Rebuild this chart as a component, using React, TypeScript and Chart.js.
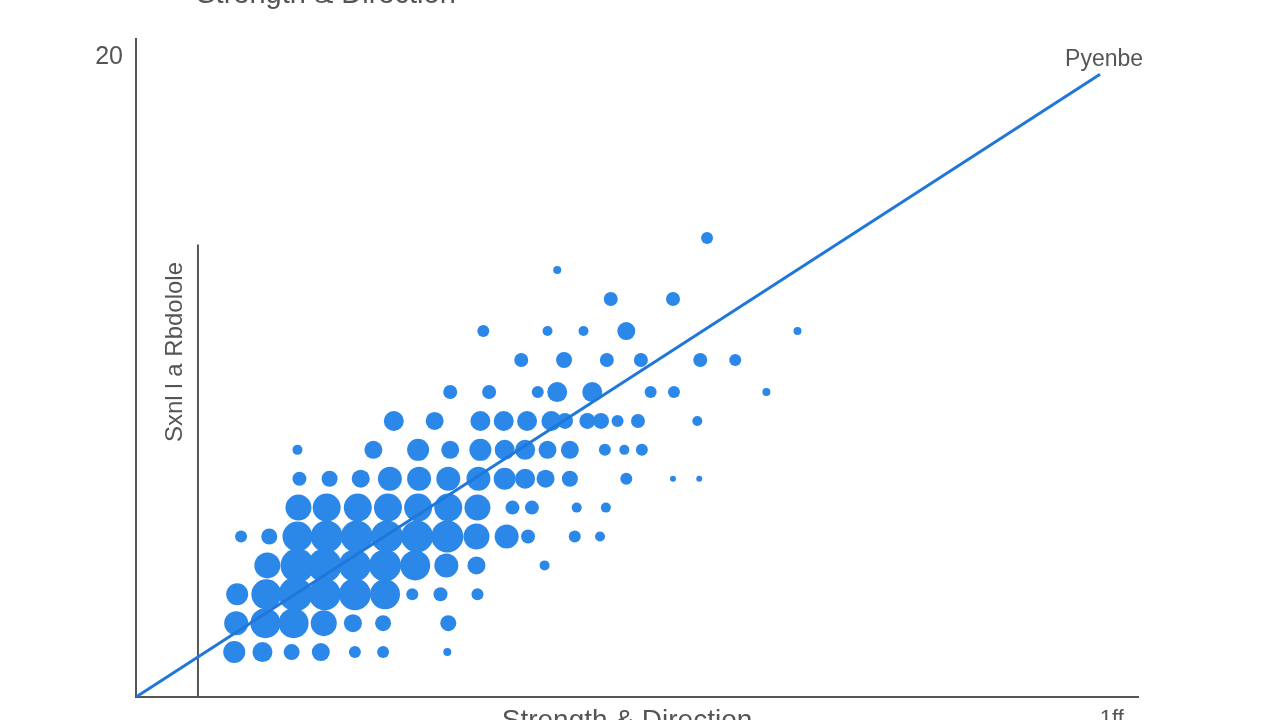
import React, { useEffect, useRef } from "react";
import { Chart, registerables } from "chart.js";

Chart.register(...registerables);

// ---- text ----
const chartTitle = "Strength & Direction";
const xAxisTitle = "Strength & Direction";
const yAxisTitle = "Sxnl l a Rbdolole";
const trendLabel = "Pyenbe";

// ---- ticks ----
const yTickValues = [20];
const yTickLabels = ["20"];
const xTickValues = [100];
const xTickLabels = ["1ff"];

// ---- bubble data, one row per y level ----
const rowLevels = [1.4, 2.3, 3.2, 4.1, 5.0, 5.9, 6.8, 7.7, 8.6, 9.5, 10.5, 11.4, 12.4, 13.3, 14.3];
const rowX = [
  [10.1, 13.0, 16.0, 19.0, 22.5, 25.4, 32.0],
  [10.3, 13.3, 16.2, 19.3, 22.3, 25.4, 32.1],
  [10.4, 13.4, 16.4, 19.4, 22.5, 25.6, 28.4, 31.3, 35.1],
  [13.5, 16.6, 19.4, 22.5, 25.6, 28.7, 31.9, 35.0, 42.0],
  [10.8, 13.7, 16.6, 19.6, 22.7, 25.8, 28.9, 32.0, 35.0, 38.1, 40.3, 45.1, 47.7],
  [16.7, 19.6, 22.8, 25.9, 29.0, 32.1, 35.1, 38.7, 40.7, 45.3, 48.3],
  [16.8, 19.9, 23.1, 26.1, 29.1, 32.1, 35.2, 37.9, 40.0, 42.1, 44.6, 50.4, 55.2, 57.9],
  [16.6, 24.4, 29.0, 32.3, 35.4, 37.9, 40.0, 42.3, 44.6, 48.2, 50.2, 52.0],
  [26.5, 30.7, 35.4, 37.8, 40.2, 42.7, 44.1, 46.4, 47.8, 49.5, 51.6, 57.7],
  [32.3, 36.3, 41.3, 43.3, 46.9, 52.9, 55.3, 64.8],
  [39.6, 44.0, 48.4, 51.9, 58.0, 61.6],
  [35.7, 42.3, 46.0, 50.4, 68.0],
  [48.8, 55.2],
  [43.3],
  [58.7],
];
const rowMagnitude = [
  [11, 10, 8, 9, 6, 6, 4],
  [12, 15, 15, 13, 9, 8, 8],
  [11, 15, 17, 16, 16, 15, 6, 7, 6],
  [13, 17, 17, 16, 16, 15, 12, 9, 5],
  [6, 8, 15, 16, 16, 16, 16, 16, 13, 12, 7, 6, 5],
  [13, 14, 14, 14, 14, 14, 13, 7, 7, 5, 5],
  [7, 8, 9, 12, 12, 12, 12, 11, 10, 9, 8, 6, 3, 3],
  [5, 9, 11, 9, 11, 10, 10, 9, 9, 6, 5, 6],
  [10, 9, 10, 10, 10, 10, 8, 8, 8, 6, 7, 5],
  [7, 7, 6, 10, 10, 6, 6, 4],
  [7, 8, 7, 7, 7, 6],
  [6, 5, 5, 9, 4],
  [7, 7],
  [4],
  [6],
];

// ---- trend line and inner axis ----
const trendX = [0, 99.1];
const trendY = [0, 19.4];
const innerAxisX = [6.37, 6.37];
const innerAxisY = [0, 14.1];

const FONT = "'Liberation Sans', Arial, Helvetica, sans-serif";
const TEXT = "#555555";

const textPlugin = {
  id: "textPlugin",
  afterDraw(chart: any) {
    const ctx = chart.ctx;
    ctx.save();
    ctx.fillStyle = TEXT;
    // top title (mostly cut off)
    ctx.font = `29px ${FONT}`;
    ctx.textAlign = "center";
    ctx.textBaseline = "alphabetic";
    ctx.fillText(chartTitle, 326, 3);
    // bottom axis title
    ctx.font = `28px ${FONT}`;
    ctx.textBaseline = "top";
    ctx.fillText(xAxisTitle, 627, 707);
    // rotated y title
    ctx.save();
    ctx.translate(175, 352);
    ctx.rotate(-Math.PI / 2);
    ctx.font = `24px ${FONT}`;
    ctx.textBaseline = "middle";
    ctx.fillText(yAxisTitle, 0, 0);
    ctx.restore();
    // label at trend end
    const xs = chart.scales.x;
    const ys = chart.scales.y;
    const ex = xs.getPixelForValue(trendX[trendX.length - 1]);
    const ey = ys.getPixelForValue(trendY[trendY.length - 1]);
    ctx.font = `23px ${FONT}`;
    ctx.textAlign = "center";
    ctx.textBaseline = "middle";
    ctx.fillText(trendLabel, ex + 4, ey - 15);
    ctx.restore();
  },
};

export default function App() {
  const ref = useRef<HTMLCanvasElement | null>(null);

  useEffect(() => {
    if (!ref.current) return;
    const bubbles: { x: number; y: number; r: number }[] = [];
    rowLevels.forEach((level, i) => {
      rowX[i].forEach((xv, j) => {
        bubbles.push({ x: xv, y: level, r: rowMagnitude[i][j] });
      });
    });
    const trend = trendX.map((x, i) => ({ x, y: trendY[i] }));
    const inner = innerAxisX.map((x, i) => ({ x, y: innerAxisY[i] }));

    const chart = new Chart(ref.current, {
      type: "bubble",
      data: {
        datasets: [
          {
            type: "line",
            label: trendLabel,
            data: trend,
            borderColor: "#1f78d9",
            borderWidth: 3,
            pointRadius: 0,
            fill: false,
            order: 0,
          } as any,
          {
            type: "line",
            label: "inner axis",
            data: inner,
            borderColor: "#555555",
            borderWidth: 2,
            pointRadius: 0,
            fill: false,
            order: 2,
          } as any,
          {
            type: "bubble",
            label: "points",
            data: bubbles,
            backgroundColor: "#2b88e8",
            borderWidth: 0,
            order: 1,
          } as any,
        ],
      },
      options: {
        animation: false,
        responsive: false,
        devicePixelRatio: 1,
        layout: { padding: { top: 39, right: 142, bottom: 0, left: 0 } },
        plugins: {
          legend: { display: false },
          tooltip: { enabled: false },
          title: { display: false },
        },
        scales: {
          x: {
            type: "linear",
            min: 0,
            max: 103,
            grid: { display: false, drawTicks: false },
            border: { display: true, color: "#555555", width: 2 },
            afterBuildTicks: (s: any) => {
              s.ticks = xTickValues.map((v) => ({ value: v }));
            },
            afterFit: (s: any) => {
              s.height = 23;
              s.paddingLeft = 0;
              s.paddingRight = 0;
            },
            ticks: {
              padding: 9,
              labelOffset: 3,
              color: TEXT,
              font: { size: 22, family: FONT },
              maxRotation: 0,
              callback: (v: any) => {
                const i = xTickValues.indexOf(Number(v));
                return i >= 0 ? xTickLabels[i] : "";
              },
            },
          },
          y: {
            type: "linear",
            min: 0,
            max: 20.5,
            grid: { display: false, drawTicks: false },
            border: { display: true, color: "#555555", width: 2 },
            afterBuildTicks: (s: any) => {
              s.ticks = yTickValues.map((v) => ({ value: v }));
            },
            afterFit: (s: any) => {
              s.width = 136;
              s.paddingTop = 0;
              s.paddingBottom = 0;
            },
            ticks: {
              padding: 13,
              labelOffset: 2,
              color: TEXT,
              font: { size: 25, family: FONT },
              callback: (v: any) => {
                const i = yTickValues.indexOf(Number(v));
                return i >= 0 ? yTickLabels[i] : "";
              },
            },
          },
        },
      } as any,
      plugins: [textPlugin],
    });
    return () => chart.destroy();
  }, []);

  return (
    <div
      style={{
        position: "fixed",
        left: 0,
        top: 0,
        width: 1280,
        height: 720,
        background: "#ffffff",
        overflow: "hidden",
      }}
    >
      <canvas ref={ref} width={1280} height={720} style={{ display: "block" }} />
    </div>
  );
}
